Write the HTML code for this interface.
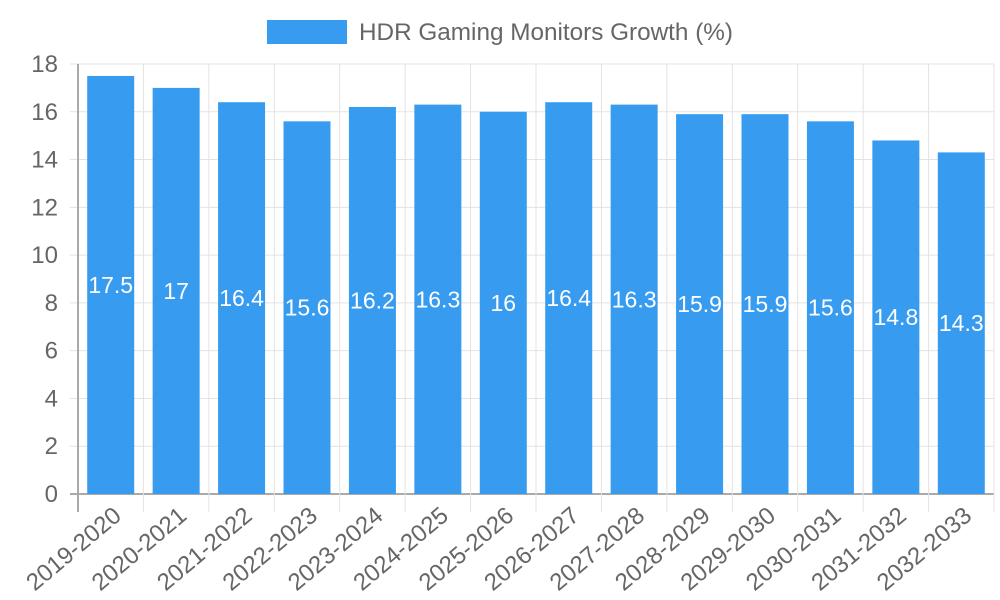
<!DOCTYPE html>
<html><head><meta charset="utf-8"><style>
body{margin:0;background:#fff;font-family:"Liberation Sans",sans-serif}
svg{display:block}
</style></head><body>
<svg id="chart" width="1000" height="600">
<g id="legend">
<rect x="267" y="20" width="80" height="24" fill="#379cf0"/>
<text x="359" y="40" font-size="24.3" fill="#666">HDR Gaming Monitors Growth (%)</text>
</g>
<g id="grid"></g><g id="bars"></g><g id="labels"></g>
</svg>
<script>
const categories=["2019-2020","2020-2021","2021-2022","2022-2023","2023-2024","2024-2025","2025-2026","2026-2027","2027-2028","2028-2029","2029-2030","2030-2031","2031-2032","2032-2033"];
const values=[17.5,17,16.4,15.6,16.2,16.3,16,16.4,16.3,15.9,15.9,15.6,14.8,14.3];
const yTicks=[0,2,4,6,8,10,12,14,16,18];
const NS="http://www.w3.org/2000/svg";
const L=78,R=994,T=64,B=494,yMax=18;
const band=(R-L)/categories.length;
const y=v=>B-(v/yMax)*(B-T);
const x=i=>L+i*band;
function mk(tag,attrs,parent){const e=document.createElementNS(NS,tag);for(const k in attrs)e.setAttribute(k,attrs[k]);parent.appendChild(e);return e;}
const grid=document.getElementById('grid'),bars=document.getElementById('bars'),labels=document.getElementById('labels');
yTicks.forEach(t=>{
 const ln=mk('line',{x1:70,x2:R,y1:y(t),y2:y(t),stroke:t===0?'#aaa':'#e3e3e3','stroke-width':t===0?2:1},grid);
 
 
 const tx=mk('text',{x:58,y:y(t)+8,'text-anchor':'end','font-size':24,fill:'#666'},grid);
 tx.textContent=t;
 
 
});
for(let i=0;i<=categories.length;i++){
 const ln=mk('line',{x1:x(i),x2:x(i),y1:T,y2:B+18,stroke:i===0?'#aaa':'#e3e3e3','stroke-width':i===0?2:1},grid);
 
 
}
categories.forEach((c,i)=>{
 const cx=x(i)+band/2,w=47;
 const r=mk('rect',{x:cx-w/2,y:y(values[i]),width:w,height:B-y(values[i]),fill:'#379cf0'},bars);
 
 
 const vt=mk('text',{x:cx,y:(y(values[i])+B)/2+8,'text-anchor':'middle','font-size':23,fill:'#fff'},labels);
 vt.textContent=values[i];
 
 
 const xt=mk('text',{x:0,y:0,'text-anchor':'end','font-size':24,fill:'#666',transform:`translate(${cx+12},${B+24}) rotate(-40)`},labels);
 xt.textContent=c;
 
 
});
</script>
</body></html>
